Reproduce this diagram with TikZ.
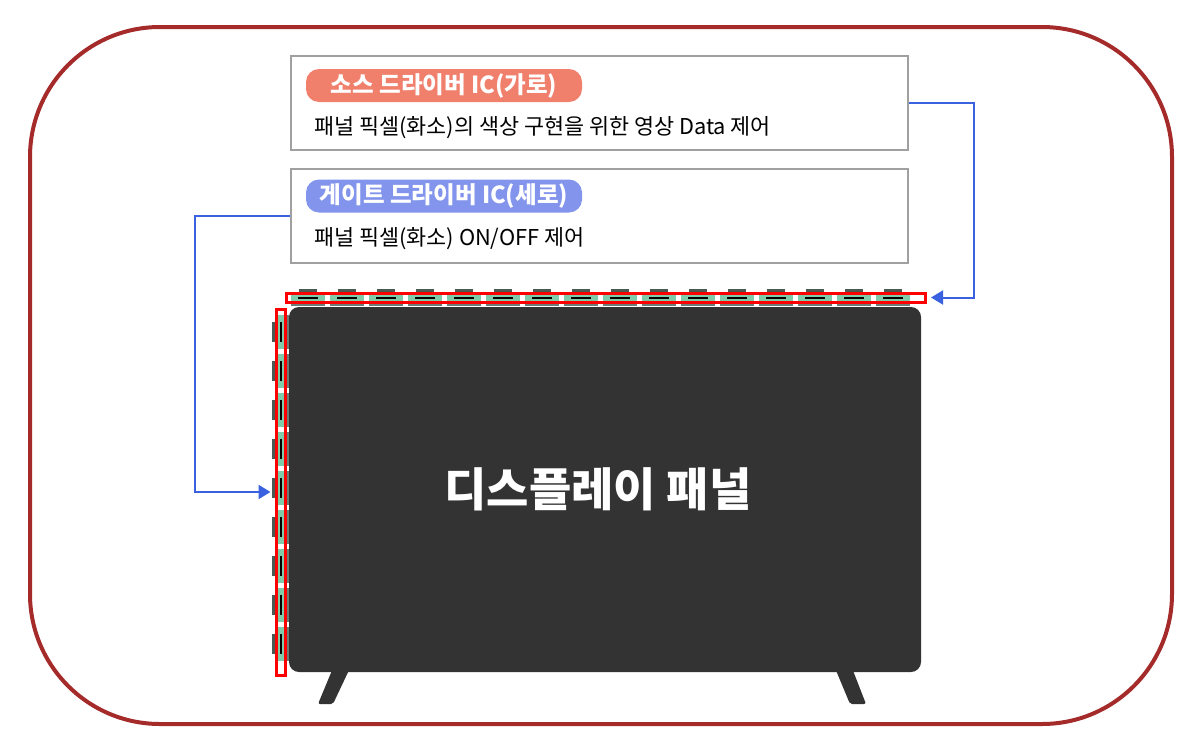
\documentclass[tikz,border=0pt]{standalone}
\usepackage{fontspec}
\setmainfont{Noto Sans CJK KR}
\usepackage{tikz}
\usetikzlibrary{arrows.meta, positioning}

\definecolor{frameRed}{HTML}{A52A2A}
\definecolor{srcPill}{HTML}{F07F6C}
\definecolor{gatePill}{HTML}{8394EC}
\definecolor{linkBlue}{HTML}{3A62E0}
\definecolor{panelGray}{HTML}{333333}
\definecolor{chipGreen}{HTML}{80CBAA}
\definecolor{boxGray}{HTML}{A0A0A0}
\definecolor{tabGray}{HTML}{4A5A52}

\tikzstyle{infobox} = [draw=boxGray, line width=2pt, minimum width=617pt, minimum height=94pt, inner sep=0pt]
\tikzstyle{pill} = [rounded corners=13pt, minimum width=276pt, minimum height=33pt, text=white, font=\fontsize{23.5}{26}\selectfont\bfseries, inner sep=0pt]
\tikzstyle{desc} = [anchor=west, font=\fontsize{21.8}{26}\selectfont, inner sep=0pt]
\tikzstyle{arrow} = [linkBlue, line width=2pt, -{Triangle[length=12pt, width=14pt]}]
\tikzstyle{chip} = [fill=chipGreen, draw=none]
\tikzstyle{icframe} = [draw=red, line width=3pt, inner sep=0pt]

\begin{document}
\begin{tikzpicture}[x=1pt, y=-1pt]
   \useasboundingbox (0,0) rectangle (1200,753);

   % Outer frame
   \draw[frameRed, line width=4pt, rounded corners=130pt] (30,27) rectangle (1172,724);

   % Info boxes with pills
   \node[infobox] (srcbox) at (599.5,103) {};
   \node[infobox] (gatebox) at (599.5,216) {};
   \node[pill, fill=srcPill] (srcpill) at (444,85.5) {소스 드라이버 IC(가로)};
   \node[pill, fill=gatePill] (gatepill) at (444,196) {게이트 드라이버 IC(세로)};
   \node[desc] (srcdesc) at (314,128) {패널 픽셀(화소)의 색상 구현을 위한 영상 Data 제어};
   \node[desc] (gatedesc) at (314,239) {패널 픽셀(화소) ON/OFF 제어};

   % Legs of the panel
   \fill[panelGray, rounded corners=2pt] (333,668) -- (350,668) -- (333,704) -- (318,704) -- cycle;
   \fill[panelGray, rounded corners=2pt] (835,668) -- (852,668) -- (866,704) -- (850,704) -- cycle;

   % Display panel
   \node[fill=panelGray, rounded corners=10pt, minimum width=632pt, minimum height=365pt] (panel) at (605,489.5) {};
   \node[text=white, font=\fontsize{46}{52}\selectfont\bfseries] (paneltitle) at ([xshift=-7pt]panel.center) {디스플레이 패널};

   % Source driver ICs along the top edge
   \foreach \i in {0,...,15} {
      \pgfmathsetmacro\cx{308+39*\i}
      \fill[tabGray] (\cx-9,289) rectangle (\cx+9,292);
      \fill[tabGray!80] (\cx-17,303) rectangle (\cx+17,306);
      \fill[chip] (\cx-17,293) rectangle (\cx+17,302);
      \draw[line width=2pt] (\cx-10,297.5) -- (\cx+10,297.5);
   }
   \node[icframe, minimum width=639pt, minimum height=9pt] (srcic) at (606,297.5) {};

   % Gate driver ICs along the left edge
   \foreach \i in {0,...,8} {
      \pgfmathsetmacro\cy{332+39*\i}
      \fill[tabGray] (271.5,\cy-10) rectangle (275,\cy+10);
      \fill[tabGray!80] (285.5,\cy-17) rectangle (288.5,\cy+17);
      \fill[chip] (276,\cy-17) rectangle (285,\cy+17);
      \draw[line width=2pt] (280.5,\cy-10) -- (280.5,\cy+10);
   }
   \node[icframe, minimum width=9pt, minimum height=366pt] (gateic) at (280.5,492) {};

   % Connectors from the boxes to the IC strips
   \draw[arrow] (srcbox.east) -- ++(65,0) |- ([xshift=4pt]srcic.east);
   \draw[arrow] (gatebox.west) -- ++(-95,0) |- ([xshift=-4pt]gateic.west);

\end{tikzpicture}
\end{document}
